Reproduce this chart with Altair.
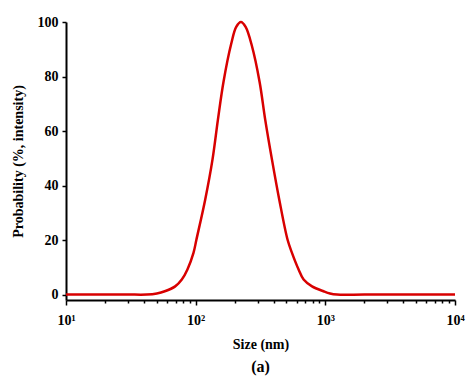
import altair as alt
import pandas as pd

size_nm = [10, 20, 30, 42, 50.2, 57.8, 69.5, 78.2, 86.4, 96.2, 101.3, 118.4, 134.8, 148.4, 164, 188,
           205.5, 223.4, 242.8, 271.6, 311, 344, 387.7, 441.4, 511.5, 553, 622, 680, 789.5, 970, 1086,
           1231, 2000, 5000, 10000]
probability = [0, 0, 0, 0, 0.4, 1.2, 3, 5.5, 9.2, 15.3, 20.1, 34.8, 49.5, 64.1, 78.1, 92,
               98.2, 100, 98.2, 91.2, 78.1, 64.1, 49.5, 34.8, 20.1, 15.3, 9.2, 5.5, 3, 1.2, 0.4,
               0, 0, 0, 0]

x_ticks = [m * 10 ** e for e in range(1, 4) for m in range(1, 10)] + [10000]

df = pd.DataFrame({"size": size_nm, "prob": probability})

label_expr = ("datum.value == 10 ? '10¹' : datum.value == 100 ? '10²' : "
              "datum.value == 1000 ? '10³' : datum.value == 10000 ? '10⁴' : ''")

font = "Liberation Serif"

chart = alt.Chart(df).mark_line(color="#d80000", strokeWidth=2.5, interpolate="catmull-rom").encode(
    x=alt.X("size:Q",
            scale=alt.Scale(type="log", domain=[10, 10000], nice=False),
            axis=alt.Axis(title="Size (nm)", values=x_ticks, labelExpr=label_expr,
                          tickSize={"condition": {"test": "indexof([10,100,1000,10000], datum.value) >= 0", "value": 5}, "value": 3},
                          labelFlush=False, labelOverlap=False, grid=False,
                          labelFont=font, labelFontWeight="bold", labelFontSize=14,
                          labelPadding=8, titlePadding=10,
                          titleFont=font, titleFontWeight="bold", titleFontSize=14,
                          domainColor="black", domainWidth=2, tickColor="black", tickWidth=1.5,
                          labelColor="black", titleColor="black")),
    y=alt.Y("prob:Q",
            scale=alt.Scale(domain=[-2, 100], nice=False, zero=False),
            axis=alt.Axis(title="Probability (%, intensity)", values=[0, 20, 40, 60, 80, 100],
                          grid=False, tickSize=4, labelPadding=4, titlePadding=12,
                          labelFont=font, labelFontWeight="bold", labelFontSize=14,
                          titleFont=font, titleFontWeight="bold", titleFontSize=14,
                          domainColor="black", domainWidth=2, tickColor="black", tickWidth=1.5,
                          labelColor="black", titleColor="black")),
).properties(
    width=389, height=278,
    title=alt.TitleParams("(a)", orient="bottom", font=font, fontWeight="bold", fontSize=16,
                          color="black", offset=8),
    autosize=alt.AutoSizeParams(type="none"),
    padding={"left": 58, "top": 14, "right": 11, "bottom": 84},
).configure_view(stroke=None)

chart.save("out.html", embed_options={"renderer": "svg", "actions": False})
